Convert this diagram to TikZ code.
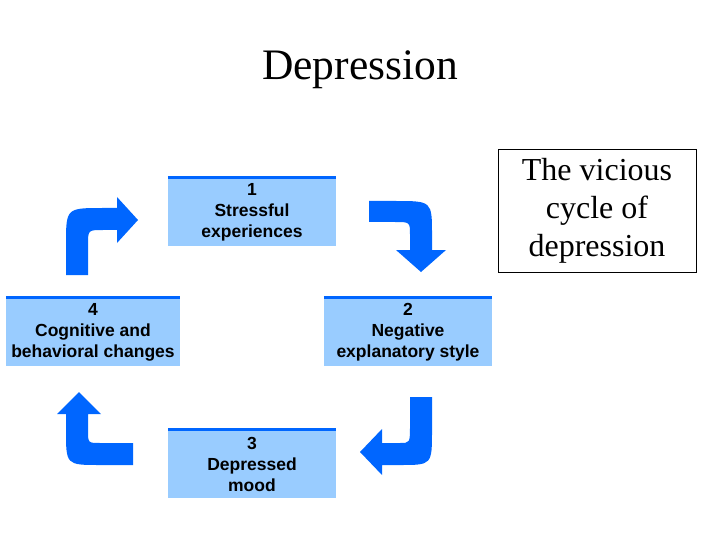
\documentclass[tikz,border=0pt]{standalone}
\usepackage{fontspec}
\setmainfont{Liberation Serif}
\newfontfamily\sansf{Liberation Sans}
\begin{document}
\begin{tikzpicture}[x=1pt,y=-1pt,
  box/.style={draw=none,fill=boxblue,minimum width=#1,minimum height=68,inner sep=0,align=center,font=\sansf\bfseries\fontsize{17.5}{21}\selectfont},
  arr/.style={fill=arrblue,draw=none}]
\definecolor{boxblue}{HTML}{99CCFF}
\definecolor{arrblue}{HTML}{0066FF}
\definecolor{barblue}{HTML}{0066FF}
\useasboundingbox (0,0) rectangle (720,540);
\node (title) at (360,70) {\fontsize{43.5}{48}\selectfont Depression};
\node[draw,line width=1pt,minimum width=198,minimum height=122,align=center,font=\fontsize{32}{38}\selectfont] (vc) at (597,211) {The vicious\\cycle of\\depression};
\node[box=168] (b1) at (252,212) {1\\Stressful\\experiences};
\node[box=174] (b4) at (93,332) {4\\Cognitive and\\behavioral changes};
\node[box=168] (b2) at (408,332) {2\\Negative\\explanatory style};
\node[box=168] (b3) at (252,464) {3\\Depressed\\mood};
\foreach \b in {b1,b2,b3,b4}{\draw[barblue,line width=3pt] (\b.north west)--(\b.north east);}
\fill[arr] (66,275)--(66,245) .. controls (66,208) .. (103,208) -- (117,208)--(117,197)--(138,220)--(117,243)--(117,230)--(103,230) .. controls (88,230) .. (88,245)--(88,275)--cycle;
\fill[arr] (369,201)--(395,201) .. controls (432,201) .. (432,235)--(432,250)--(446,250)--(421,272)--(396,250)--(410,250)--(410,235) .. controls (410,222) .. (395,222)--(369,222)--cycle;
\fill[arr] (432,397)--(432,430) .. controls (432,465) .. (400,465)--(382,465)--(382,475)--(360,452)--(382,429)--(382,443)--(400,443) .. controls (410,443) .. (410,425)--(410,397)--cycle;
\fill[arr] (133,465)--(100,465) .. controls (66,465) .. (66,430)--(66,414)--(57,414)--(79,392)--(101,414)--(88,414)--(88,430) .. controls (88,443) .. (100,443)--(133,443)--cycle;
\end{tikzpicture}
\end{document}
